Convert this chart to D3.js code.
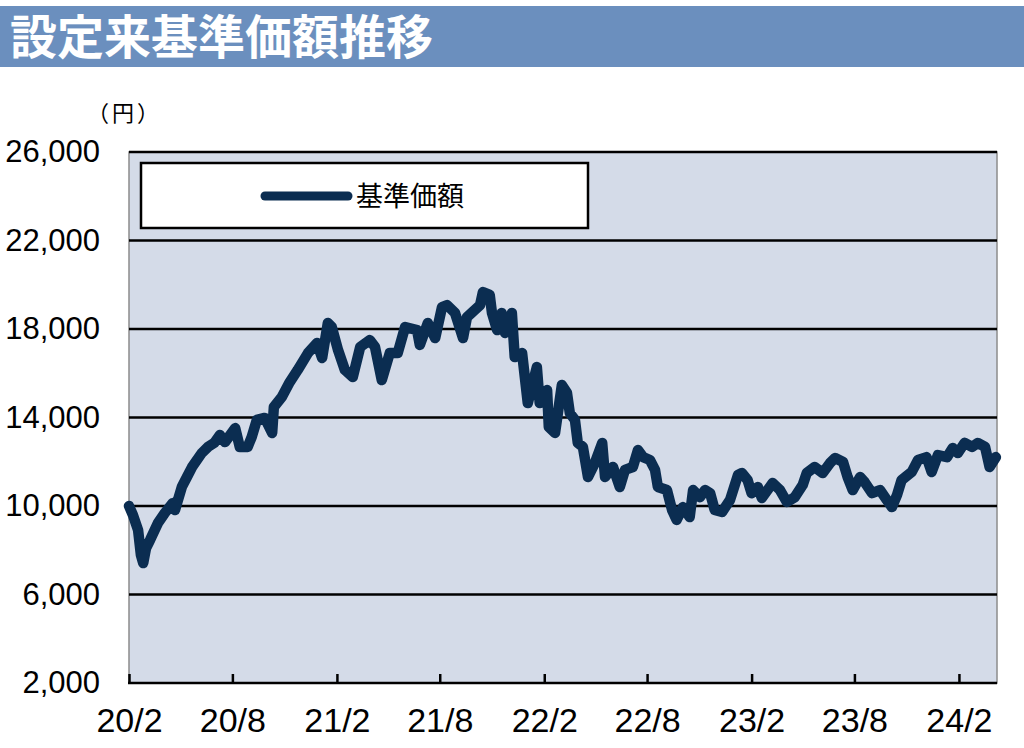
<!DOCTYPE html>
<meta charset="utf-8">
<script src="https://cdn.jsdelivr.net/npm/d3@7"></script>
<style>
body { margin: 0; background: #fff; }
text { font-family: "Noto Sans CJK JP", sans-serif; }
.num { font-family: "Liberation Sans Narrow", "Liberation Sans", sans-serif; }
</style>
<body>
<script>
var width = 1024,
    height = 748;

// 基準価額 (円)
var dates = [
  "2020-02-01","2020-02-08","2020-02-17","2020-02-22","2020-02-26","2020-03-02","2020-03-09","2020-03-23",
  "2020-04-04","2020-04-18","2020-04-22","2020-05-04","2020-05-13","2020-05-22","2020-06-08","2020-06-19",
  "2020-06-30","2020-07-10","2020-07-19","2020-08-06","2020-08-14","2020-08-28","2020-09-04","2020-09-13",
  "2020-09-27","2020-10-10","2020-10-13","2020-10-27","2020-11-10","2020-11-24","2020-12-12","2020-12-28",
  "2021-01-06","2021-01-16","2021-01-23","2021-02-03","2021-02-15","2021-03-01","2021-03-14","2021-03-31",
  "2021-04-09","2021-04-21","2021-05-05","2021-05-19","2021-06-01","2021-06-22","2021-06-27","2021-07-11",
  "2021-07-24","2021-08-05","2021-08-14","2021-08-28","2021-09-11","2021-09-18","2021-10-11","2021-10-16",
  "2021-10-28","2021-11-01","2021-11-10","2021-11-18","2021-11-24","2021-12-06","2021-12-11","2021-12-24",
  "2022-01-03","2022-01-19","2022-01-24","2022-02-06","2022-02-09","2022-02-20","2022-03-04","2022-03-13",
  "2022-03-18","2022-03-27","2022-04-01","2022-04-10","2022-04-19","2022-05-01","2022-05-14","2022-05-19",
  "2022-06-02","2022-06-14","2022-06-23","2022-07-07","2022-07-16","2022-07-25","2022-08-06","2022-08-15",
  "2022-08-20","2022-09-05","2022-09-14","2022-09-22","2022-10-03","2022-10-15","2022-10-21","2022-11-02",
  "2022-11-11","2022-11-20","2022-11-28","2022-12-11","2022-12-25","2023-01-08","2023-01-15","2023-01-25",
  "2023-02-01","2023-02-12","2023-02-19","2023-03-05","2023-03-10","2023-03-23","2023-04-04","2023-04-18",
  "2023-05-02","2023-05-09","2023-05-23","2023-06-06","2023-06-19","2023-06-28","2023-07-12","2023-07-20",
  "2023-07-29","2023-08-11","2023-08-19","2023-09-01","2023-09-15","2023-09-27","2023-10-06","2023-10-15",
  "2023-10-23","2023-11-10","2023-11-21","2023-12-06","2023-12-15","2023-12-26","2024-01-11","2024-01-21",
  "2024-01-30","2024-02-11","2024-02-24","2024-03-05","2024-03-18","2024-03-26","2024-04-06"
];
var nav = [
  10000, 9590, 8910, 7780, 7420, 8100, 8460, 9230,
  9680, 10130, 9820, 10860, 11310, 11760, 12390, 12670,
  12850, 13210, 12890, 13520, 12670, 12670, 13120, 13890,
  13980, 13300, 14470, 14930, 15600, 16150, 16910, 17370,
  16690, 18270, 18090, 17050, 16150, 15830, 17190, 17500,
  17190, 15690, 16910, 16910, 18090, 17950, 17280, 18270,
  17590, 18990, 19080, 18720, 17590, 18540, 19080, 19670,
  19540, 18720, 17950, 18720, 17820, 18720, 16730, 16910,
  14650, 16280, 14650, 15240, 13570, 13300, 15470, 15110,
  14200, 13890, 12850, 12670, 11310, 11940, 12850, 11310,
  11760, 10860, 11630, 11760, 12530, 12210, 12080, 11630,
  10860, 10720, 9820, 9370, 9950, 9500, 10720, 10400,
  10720, 10580, 9820, 9730, 10270, 11400, 11490, 11170,
  10580, 10860, 10360, 10860, 11040, 10720, 10180, 10400,
  10950, 11490, 11760, 11490, 11940, 12170, 11990, 11310,
  10720, 11310, 11080, 10580, 10720, 10270, 9950, 10500,
  11170, 11540, 12080, 12210, 11540, 12300, 12210, 12620,
  12390, 12850, 12670, 12850, 12670, 11760, 12210
];
var yTicks = [2000, 6000, 10000, 14000, 18000, 22000, 26000];
var xTicks = ["2020-02-01","2020-08-01","2021-02-01","2021-08-01","2022-02-01",
              "2022-08-01","2023-02-01","2023-08-01","2024-02-01"];
var xStart = "2020-02-01", xEnd = "2024-04-08";

var parse = d3.timeParse("%Y-%m-%d");
var data = dates.map(function(d, i) { return {date: parse(d), value: nav[i]}; });

var pLeft = 129, pRight = 997, pTop = 152, pBottom = 683;

var x = d3.scaleTime().domain([parse(xStart), parse(xEnd)]).range([pLeft, pRight]);
var y = d3.scaleLinear().domain([2000, 26000]).range([pBottom, pTop]);

var svg = d3.select("body").append("svg")
    .attr("width", width)
    .attr("height", height);

// title banner
svg.append("rect")
    .attr("x", 0).attr("y", 6)
    .attr("width", width).attr("height", 61)
    .attr("fill", "#6b8fbe");
svg.append("text")
    .attr("x", 10).attr("y", 54)
    .attr("fill", "#fff")
    .attr("font-size", 47)
    .attr("font-weight", "bold")
    .text("設定来基準価額推移");

// plot background
svg.append("rect")
    .attr("x", pLeft).attr("y", pTop)
    .attr("width", pRight - pLeft).attr("height", pBottom - pTop)
    .attr("fill", "#d4dbe8")
    .attr("stroke", "#8c8c8c")
    .attr("stroke-width", 1.5);

// gridlines
svg.append("g")
  .selectAll("line")
  .data(yTicks.slice(1))
  .enter().append("line")
    .attr("x1", pLeft).attr("x2", pRight)
    .attr("y1", function(d) { return y(d); })
    .attr("y2", function(d) { return y(d); })
    .attr("stroke", "#000")
    .attr("stroke-width", 2.5);

// y axis labels
var yAxis = svg.append("g")
    .attr("transform", "translate(" + pLeft + ",0)")
    .call(d3.axisLeft(y).tickValues(yTicks).tickSize(0).tickPadding(29).tickFormat(d3.format(",")));
yAxis.select(".domain").remove();
yAxis.selectAll("text")
    .attr("class", "num")
    .attr("font-size", 31)
    .attr("fill", "#000");

svg.append("text")
    .attr("x", 87).attr("y", 121)
    .attr("font-size", 22)
    .attr("letter-spacing", 3)
    .text("（円）");

// x axis
var xAxis = svg.append("g")
    .attr("transform", "translate(0," + pBottom + ")")
    .call(d3.axisTop(x).tickValues(xTicks.map(parse)).tickSize(9).tickFormat(d3.timeFormat("%y/%-m")));
xAxis.select(".domain").remove();
xAxis.selectAll("line").attr("stroke", "#000").attr("stroke-width", 2.5);
xAxis.selectAll("text")
    .attr("class", "num")
    .attr("font-size", 34)
    .attr("fill", "#000")
    .attr("y", 49)
    .attr("dy", 0);

svg.append("line")
    .attr("x1", pLeft - 1).attr("x2", pRight)
    .attr("y1", pBottom).attr("y2", pBottom)
    .attr("stroke", "#000")
    .attr("stroke-width", 2.5);

// the line
var line = d3.line()
    .x(function(d) { return x(d.date); })
    .y(function(d) { return y(d.value); });

svg.append("path")
    .datum(data)
    .attr("d", line)
    .attr("fill", "none")
    .attr("stroke", "#0b2d51")
    .attr("stroke-width", 10.5)
    .attr("stroke-linejoin", "round")
    .attr("stroke-linecap", "round");

// legend
svg.append("rect")
    .attr("x", 141).attr("y", 163)
    .attr("width", 447).attr("height", 65)
    .attr("fill", "#fff")
    .attr("stroke", "#000")
    .attr("stroke-width", 2.5);
svg.append("line")
    .attr("x1", 265).attr("x2", 348)
    .attr("y1", 196).attr("y2", 196)
    .attr("stroke", "#0b2d51")
    .attr("stroke-width", 9)
    .attr("stroke-linecap", "round");
svg.append("text")
    .attr("x", 356).attr("y", 206)
    .attr("font-size", 27)
    .text("基準価額");
</script>
</body>
</html>
